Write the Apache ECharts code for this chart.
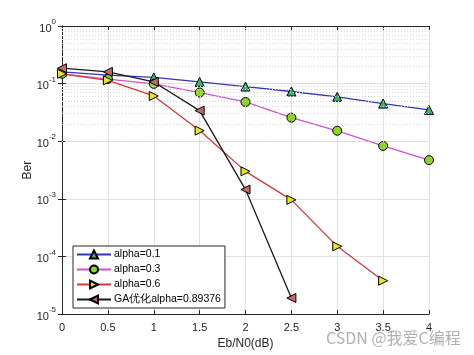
<!DOCTYPE html>
<html><head><meta charset="utf-8">
<script src="https://cdn.jsdelivr.net/npm/echarts@6/dist/echarts.min.js"></script>
<style>html,body{margin:0;padding:0;background:#fff}#c{width:474px;height:355px}</style>
</head><body><div id="c"></div>
<script>
const ebn0 = [0, 0.5, 1, 1.5, 2, 2.5, 3, 3.5, 4];
const xTicks = [0, 0.5, 1, 1.5, 2, 2.5, 3, 3.5, 4];
const berAlpha01 = [0.16, 0.14, 0.128, 0.107, 0.089, 0.073, 0.059, 0.045, 0.035];
const berAlpha03 = [0.148, 0.12, 0.099, 0.070, 0.048, 0.0257, 0.0152, 0.0083, 0.0047];
const berAlpha06 = [0.148, 0.114, 0.061, 0.0153, 0.003, 0.00096, 0.00015, 0.000038];
const berGA = [0.185, 0.16, 0.107, 0.034, 0.00145, 0.000019];
const seriesNames = ['alpha=0.1', 'alpha=0.3', 'alpha=0.6', 'GA优化alpha=0.89376'];
const yMinorGrid = [];
for (let e = -5; e < 0; e++) for (let m = 2; m <= 9; m++) yMinorGrid.push(m * Math.pow(10, e));

const font = '"Liberation Sans", Arial, sans-serif';
const pair = (ys) => ys.map((v, i) => [ebn0[i], v]);
const chart = echarts.init(document.getElementById('c'));
const axisCol = '#262626';
chart.setOption({
  animation: false,
  textStyle: { fontFamily: font },
  grid: { left: 62, right: 45, top: 26, bottom: 40, containLabel: false },
  legend: {
    orient: 'vertical', left: 73, top: 246,
    data: seriesNames,
    backgroundColor: '#fff', borderColor: '#262626', borderWidth: 1,
    borderRadius: 0, padding: [3, 4, 3, 3],
    itemWidth: 34, itemHeight: 10, itemGap: 4,
    textStyle: { fontSize: 10.5, color: '#000', fontFamily: font, padding: [0, 0, 0, -2] }
  },
  xAxis: [{
    type: 'value', min: 0, max: 4, interval: 0.5,
    name: 'Eb/N0(dB)', nameLocation: 'middle', nameGap: 23,
    nameTextStyle: { fontSize: 12, color: axisCol },
    axisLine: { lineStyle: { color: axisCol } },
    axisTick: { inside: true, length: 4, lineStyle: { color: axisCol } },
    axisLabel: { fontSize: 11, color: axisCol, margin: 8, formatter: v => String(v) },
    splitLine: { show: true, lineStyle: { color: '#e2e2e2' } }
  }, {
    type: 'value', min: 0, max: 4, interval: 0.5, position: 'top',
    axisLine: { show: true, lineStyle: { color: axisCol } },
    axisTick: { inside: true, length: 4, lineStyle: { color: axisCol } },
    axisLabel: { show: false }, splitLine: { show: false }
  }],
  yAxis: [{
    type: 'log', logBase: 10, min: 1e-5, max: 1,
    name: 'Ber', nameLocation: 'middle', nameGap: 28, nameRotate: 90, nameMoveOverlap: false,
    nameTextStyle: { fontSize: 12, color: axisCol },
    axisLine: { show: true, lineStyle: { color: axisCol } },
    axisTick: { inside: true, length: 4, lineStyle: { color: axisCol } },
    axisLabel: {
      color: axisCol, margin: 6,
      formatter: v => '{b|10}{e|' + Math.round(Math.log10(v)) + '}',
      rich: {
        b: { fontSize: 11, color: axisCol, fontFamily: font, verticalAlign: 'bottom', lineHeight: 16 },
        e: { fontSize: 8, color: axisCol, fontFamily: font, verticalAlign: 'top', lineHeight: 16 }
      }
    },
    splitLine: { show: true, lineStyle: { color: '#e2e2e2' } }
  }, {
    type: 'log', logBase: 10, min: 1e-5, max: 1, position: 'right',
    axisLine: { show: true, lineStyle: { color: axisCol } },
    axisTick: { inside: true, length: 4, lineStyle: { color: axisCol } },
    axisLabel: { show: false }, splitLine: { show: false }
  }],
  series: [
    {
      name: seriesNames[0], type: 'line', data: pair(berAlpha01),
      symbol: 'triangle', symbolSize: 9,
      lineStyle: { color: '#3434b4', width: 1.3 },
      itemStyle: { color: '#3cb371', borderColor: '#000', borderWidth: 1 },
      markLine: {
        silent: true, symbol: 'none', label: { show: false }, animation: false,
        lineStyle: { color: '#d8d8d8', type: [1, 2], width: 1 },
        data: yMinorGrid.map(v => ({ yAxis: v }))
      }, z: 3
    },
    {
      name: seriesNames[1], type: 'line', data: pair(berAlpha03),
      symbol: 'circle', symbolSize: 9,
      lineStyle: { color: '#d24fd2', width: 1.3 },
      itemStyle: { color: '#8fd12d', borderColor: '#000', borderWidth: 1 }, z: 4
    },
    {
      name: seriesNames[2], type: 'line', data: pair(berAlpha06),
      symbol: 'triangle', symbolRotate: -90, symbolSize: 9,
      lineStyle: { color: '#d03a3a', width: 1.3 },
      itemStyle: { color: '#e6e629', borderColor: '#000', borderWidth: 1 }, z: 5
    },
    {
      name: seriesNames[3], type: 'line', data: pair(berGA),
      symbol: 'triangle', symbolRotate: 90, symbolSize: 9,
      lineStyle: { color: '#1a1a1a', width: 1.3 },
      itemStyle: { color: '#c46a6a', borderColor: '#000', borderWidth: 1 }, z: 6
    }
  ],
  graphic: [{
    type: 'text', left: 326, top: 330, silent: true,
    style: { text: 'CSDN @我爱C编程', fontSize: 16, fill: 'rgba(150,150,150,0.75)', fontFamily: '"Noto Sans CJK SC", sans-serif' }
  }]
});
</script></body></html>
